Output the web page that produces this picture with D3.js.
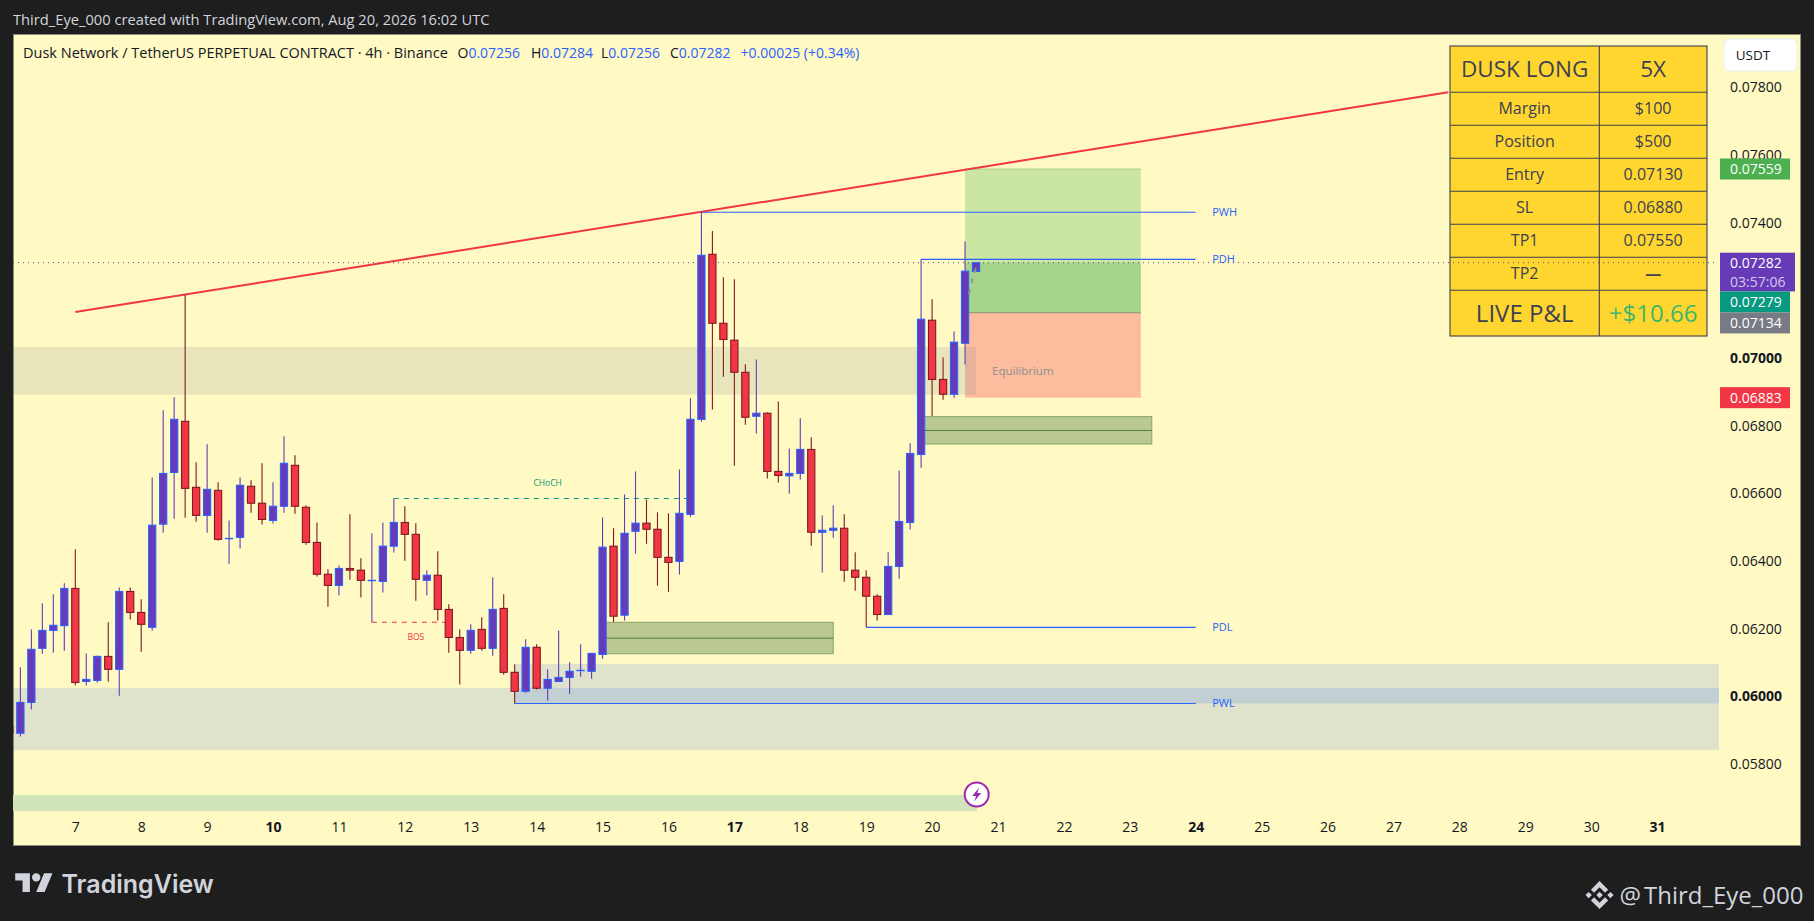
<!DOCTYPE html>
<html>
<head>
<meta charset="utf-8">
<title>DUSK 4h</title>
<script src="https://cdn.jsdelivr.net/npm/d3@7"></script>
<style>
	html, body { margin: 0; padding: 0; background: #1e1e1e; overflow: hidden; }
	svg { display: block; }
	text { font-family: "Open Sans", "Noto Sans", sans-serif; }
</style>
</head>
<body>
<div id="chart"></div>
<script>
// all prices are in units of 0.00001 USDT
var opens = [5910,5891,5982,6142,6195,6209,6319,6044,6047,6118,6080,6310,6248,6204,6509,6662,6813,6618,6535,6609,6466,6470,6621,6571,6520,6562,6683,6559,6455,6361,6328,6378,6373,6342,6340,6444,6514,6479,6343,6358,6257,6174,6136,6198,6142,6260,6071,6015,6145,6024,6044,6056,6076,6074,6124,6444,6240,6488,6512,6494,6411,6399,6538,6819,7307,7103,7053,6958,6828,6837,6665,6652,6659,6730,6485,6491,6497,6373,6352,6296,6242,6384,6514,6715,7112,6937,6893,7044,7256];
var highs = [5915,6086,6198,6275,6302,6334,6435,6127,6121,6219,6322,6322,6287,6647,6846,6884,7187,6692,6745,6633,6520,6647,6639,6689,6633,6769,6713,6565,6514,6376,6387,6538,6408,6482,6514,6585,6562,6512,6373,6429,6272,6198,6213,6234,6352,6302,6095,6169,6154,6080,6195,6101,6154,6127,6529,6497,6597,6665,6582,6544,6541,6671,6881,7431,7376,7239,7233,6982,6996,6840,6872,6733,6822,6766,6535,6565,6538,6426,6373,6302,6426,6668,6748,7292,7174,7002,7079,7345,7284];
var lows = [5886,5881,5961,6126,6129,6135,6032,6032,6040,6043,6002,6227,6132,6194,6484,6525,6528,6516,6484,6460,6392,6437,6543,6508,6511,6543,6540,6448,6354,6265,6298,6345,6292,6219,6307,6425,6401,6283,6298,6224,6129,6035,6126,6135,6120,6064,5979,6011,6020,5987,6043,6008,6058,6052,6111,6219,6224,6422,6451,6327,6309,6360,6531,6812,6848,6945,6682,6803,6777,6644,6632,6599,6641,6445,6366,6469,6339,6312,6204,6224,6242,6348,6493,6676,6829,6877,6883,6981,7256];
var closes = [5891,5982,6139,6195,6210,6319,6041,6050,6118,6080,6310,6248,6213,6506,6659,6819,6615,6535,6612,6464,6467,6624,6571,6523,6562,6689,6562,6455,6361,6328,6378,6373,6343,6343,6444,6514,6479,6346,6358,6257,6174,6136,6195,6142,6257,6071,6015,6145,6024,6050,6056,6074,6077,6127,6441,6237,6482,6512,6494,6411,6396,6541,6819,7304,7103,7055,6958,6825,6837,6665,6653,6659,6730,6485,6491,6497,6373,6352,6296,6242,6384,6517,6718,7115,6937,6893,7047,7257,7282];

// 0.07200 sits behind the last price tag in the picture, so it is not listed
var priceTicks = [5800,6000,6200,6400,6600,6800,7000,7400,7600,7800];
var boldPrices = [6000,7000];
var dayTicks = [7,8,9,10,11,12,13,14,15,16,17,18,19,20,21,22,23,24,25,26,27,28,29,30,31];
var boldDays = [10,17,24,31];

var lastBarTime = Date.UTC(2026,7,20,16);
var fourHours = 4*3600*1000;

function day(d, h) { return Date.UTC(2026,7,d,h||0); }

var greyZones = [
	{ label:'equilibrium', top:7033, bottom:6892, from:null, to:day(20,16), color:'rgba(120,123,134,0.16)' },
	{ label:'lower zone', top:6025, bottom:5841, from:null, to:day(32), color:'rgba(41,98,255,0.15)' },
	{ label:'lower zone top', top:6096, bottom:5979, from:day(13,16), to:day(32), color:'rgba(41,98,255,0.15)' }
];
var orderBoxes = [
	{ top:6219, mid:6172, bottom:6126, from:day(15,0), to:day(18,12) },
	{ top:6827, mid:6786, bottom:6746, from:day(19,20), to:day(23,8) }
];
var levelLines = [
	{ name:'PWH', price:7431, from:day(16,12) },
	{ name:'PDH', price:7292, from:day(19,20) },
	{ name:'PDL', price:6204, from:day(19,0) },
	{ name:'PWL', price:5979, from:day(13,16) }
];
var levelEnd = day(24);
var levelLabelTime = day(24,6);

var trendDates = [day(7), Date.UTC(2026,7,27,20)];
var trendPrices = [7136,7786];

var structure = [
	{ name:'CHoCH', price:6585, from:day(11,20), to:day(16,8), labelAt:day(14,4), labelPrice:6630, color:'#089981' },
	{ name:'BOS', price:6219, from:day(11,12), to:day(12,16), labelAt:day(12,4), labelPrice:6174, color:'#f23645' }
];

var tpPrice = 7559, entryPrice = 7134, stopPrice = 6883, lastPrice = 7282;
var riskFrom = day(20,12), riskTo = day(23,4);

var tableRows = [
	['DUSK LONG','5X'],
	['Margin','$100'],
	['Position','$500'],
	['Entry','0.07130'],
	['SL','0.06880'],
	['TP1','0.07550'],
	['TP2','\u2014'],
	['LIVE P&L','+$10.66']
];
var priceTags = [
	{ price:7559, text:'0.07559', color:'#4caf50', h:21, w:70 },
	{ price:7282, text:'0.07282', sub:'03:57:06', color:'#673ab7', h:38.7, w:75 },
	{ price:7279, text:'0.07279', color:'#089981', h:21, w:70 },
	{ price:7134, text:'0.07134', color:'#787b86', h:21, w:70 },
	{ price:6883, text:'0.06883', color:'#f23645', h:21, w:70 }
];

var width = 1814, height = 921;
var plot = { left:13, right:1801, top:34, bottom:845 };
var paneRight = 1719;

var x = d3.scaleUtc().domain([day(7), day(21)]).range([75.3, 998]);
var y = d3.scaleLinear().domain([5800, 7800]).range([764, 87.5]);

var barTimes = opens.map(function(d,i){ return lastBarTime - (opens.length-1-i)*fourHours; });

var svg = d3.select('#chart').append('svg').attr('width', width).attr('height', height);

svg.append('defs').append('clipPath').attr('id','pane')
	.append('rect').attr('x',plot.left).attr('y',plot.top)
	.attr('width',paneRight-plot.left).attr('height',plot.bottom-plot.top);

svg.append('rect').attr('x',plot.left+0.5).attr('y',plot.top+0.5)
	.attr('width',plot.right-plot.left-1).attr('height',plot.bottom-plot.top)
	.attr('fill','#fff9c4').attr('stroke','#8f8d7a');

svg.append('text').attr('x',13).attr('y',25).attr('fill','#d1d4dc').style('font-size','14.7px')
	.text('Third_Eye_000 created with TradingView.com, Aug 20, 2026 16:02 UTC');

var pane = svg.append('g').attr('clip-path','url(#pane)');

// long position tool
pane.append('rect').attr('x',x(riskFrom)).attr('width',x(riskTo)-x(riskFrom))
	.attr('y',y(tpPrice)).attr('height',y(entryPrice)-y(tpPrice)).attr('fill','#cbe5a3');
pane.append('rect').attr('x',x(riskFrom)).attr('width',x(riskTo)-x(riskFrom))
	.attr('y',y(lastPrice)).attr('height',y(entryPrice)-y(lastPrice)).attr('fill','#a5d48a');
pane.append('rect').attr('x',x(riskFrom)).attr('width',x(riskTo)-x(riskFrom))
	.attr('y',y(entryPrice)).attr('height',y(stopPrice)-y(entryPrice)).attr('fill','#fcbd9f');
pane.append('line').attr('x1',x(riskFrom)).attr('x2',x(riskTo)).attr('y1',y(entryPrice)).attr('y2',y(entryPrice))
	.attr('stroke','#8a8a70').attr('stroke-width',1);
pane.append('line').attr('x1',x(riskFrom)).attr('x2',x(riskTo)).attr('y1',y(tpPrice)).attr('y2',y(tpPrice))
	.attr('stroke','#a9cf85').attr('stroke-width',1);

pane.selectAll('.zone').data(greyZones).enter().append('rect').attr('class','zone')
	.attr('x',function(d){ return d.from ? x(d.from) : plot.left; })
	.attr('width',function(d){ return x(d.to) - (d.from ? x(d.from) : plot.left); })
	.attr('y',function(d){ return y(d.top); })
	.attr('height',function(d){ return y(d.bottom)-y(d.top); })
	.attr('fill',function(d){ return d.color; });

// bottom strip up to the last bar
pane.append('rect').attr('x',plot.left).attr('width',977-plot.left).attr('y',795).attr('height',16).attr('fill','#d1e5b9');

var box = pane.selectAll('.obox').data(orderBoxes).enter().append('g').attr('class','obox');
box.append('rect')
	.attr('x',function(d){ return x(d.from); })
	.attr('width',function(d){ return x(d.to)-x(d.from); })
	.attr('y',function(d){ return y(d.top); })
	.attr('height',function(d){ return y(d.bottom)-y(d.top); })
	.attr('fill','#b9c991').attr('stroke','#86a56d').attr('stroke-width',1);
box.append('line')
	.attr('x1',function(d){ return x(d.from); }).attr('x2',function(d){ return x(d.to); })
	.attr('y1',function(d){ return y(d.mid); }).attr('y2',function(d){ return y(d.mid); })
	.attr('stroke','#55803e').attr('stroke-width',1);

// trend line
pane.append('line')
	.attr('x1',x(trendDates[0])).attr('y1',y(trendPrices[0]))
	.attr('x2',x(trendDates[1])).attr('y2',y(trendPrices[1]))
	.attr('stroke','#f23645').attr('stroke-width',2);

pane.selectAll('.level').data(levelLines).enter().append('line').attr('class','level')
	.attr('x1',function(d){ return x(d.from); }).attr('x2',x(levelEnd))
	.attr('y1',function(d){ return y(d.price); }).attr('y2',function(d){ return y(d.price); })
	.attr('stroke','#2962ff').attr('stroke-width',1.1);

pane.selectAll('.struct').data(structure).enter().append('line').attr('class','struct')
	.attr('x1',function(d){ return x(d.from); }).attr('x2',function(d){ return x(d.to); })
	.attr('y1',function(d){ return y(d.price); }).attr('y2',function(d){ return y(d.price); })
	.attr('stroke',function(d){ return d.color; }).attr('stroke-width',1.1).attr('stroke-dasharray','5 5');

// candles
var candle = pane.selectAll('.candle').data(opens).enter().append('g').attr('class','candle');
function isUp(i) { return closes[i] >= opens[i]; }
candle.append('line')
	.attr('x1',function(d,i){ return x(barTimes[i]); }).attr('x2',function(d,i){ return x(barTimes[i]); })
	.attr('y1',function(d,i){ return y(highs[i]); }).attr('y2',function(d,i){ return y(lows[i]); })
	.attr('stroke',function(d,i){ return isUp(i) ? '#673ab7' : '#801922'; }).attr('stroke-width',1.1);
candle.append('rect')
	.attr('x',function(d,i){ return x(barTimes[i])-3.6; }).attr('width',7.2)
	.attr('y',function(d,i){ return y(Math.max(opens[i],closes[i])); })
	.attr('height',function(d,i){ return Math.abs(y(opens[i])-y(closes[i])); })
	.attr('fill',function(d,i){ return isUp(i) ? '#673ab7' : '#f23645'; })
	.attr('stroke',function(d,i){ return isUp(i) ? '#2962ff' : '#801922'; }).attr('stroke-width',1.1);

// the small forecast arrow beside the last bar
pane.append('path').attr('d','M969 294L973 277L977 265')
	.attr('fill','none').attr('stroke','#8d9a7c').attr('stroke-width',2).attr('stroke-dasharray','5 6');

// level labels
svg.selectAll('.lvl-label').data(levelLines).enter().append('text').attr('class','lvl-label')
	.attr('x',x(levelLabelTime)).attr('y',function(d){ return y(d.price); }).attr('dy','0.35em')
	.attr('fill','#2962ff').style('font-size','11px')
	.text(function(d){ return d.name; });

svg.selectAll('.struct-label').data(structure).enter().append('text').attr('class','struct-label')
	.attr('x',function(d){ return x(d.labelAt); }).attr('y',function(d){ return y(d.labelPrice); }).attr('dy','0.35em')
	.attr('text-anchor','middle').attr('fill',function(d){ return d.color; }).style('font-size','8.5px')
	.text(function(d){ return d.name; });

svg.append('text').attr('x',992).attr('y',371).attr('dy','0.35em').attr('fill','#8d9191').style('font-size','11.5px').text('Equilibrium');

// legend row
var legend = svg.append('text').attr('x',23).attr('y',58).style('font-size','14px').attr('fill','#131722');
legend.append('tspan').attr('x',23).style('font-size','14.5px').text('Dusk Network / TetherUS PERPETUAL CONTRACT \u00b7 4h \u00b7 Binance');
var ohlcLabels = ['O','H','L','C'];
var ohlcValues = ['0.07256','0.07284','0.07256','0.07282'];
var ohlcX = [457.5,531,601,670];
ohlcLabels.forEach(function(l,i){
	legend.append('tspan').attr('x',ohlcX[i]).text(l);
	legend.append('tspan').attr('fill','#2962ff').text(ohlcValues[i]);
});
legend.append('tspan').attr('x',740.5).attr('fill','#2962ff').text('+0.00025 (+0.34%)');

// table
var tableX = [1450,1599.3,1707];
var tableY = [46,92.3,125.3,158.3,191.3,224.3,257.3,290.3,336];
var cell = svg.append('g');
cell.append('rect').attr('x',tableX[0]).attr('y',tableY[0])
	.attr('width',tableX[2]-tableX[0]).attr('height',tableY[8]-tableY[0])
	.attr('fill','#ffd630').attr('stroke','#3d4150').attr('stroke-width',1.1);
cell.selectAll('.hrow').data(tableY.slice(1,-1)).enter().append('line').attr('class','hrow')
	.attr('x1',tableX[0]).attr('x2',tableX[2]).attr('y1',function(d){ return d; }).attr('y2',function(d){ return d; })
	.attr('stroke','#3d4150').attr('stroke-width',1.1);
cell.append('line').attr('x1',tableX[1]).attr('x2',tableX[1]).attr('y1',tableY[0]).attr('y2',tableY[8])
	.attr('stroke','#3d4150').attr('stroke-width',1.1);
tableRows.forEach(function(row,i){
	var size = i===0 ? '22.5px' : (i===tableRows.length-1 ? '24px' : '16px');
	var cy = (tableY[i]+tableY[i+1])/2;
	[0,1].forEach(function(col){
		cell.append('text')
			.attr('x',(tableX[col]+tableX[col+1])/2).attr('y',cy).attr('dy','0.35em')
			.attr('text-anchor','middle')
			.attr('fill',(row[col]==='+$10.66') ? '#3fb56a' : '#3d4150')
			.style('font-size',size)
			.style('font-weight',row[col]==='\u2014' ? 700 : 400)
			.text(row[col]);
	});
});

// dotted last price line goes over the table
svg.append('line')
	.attr('x1',plot.left).attr('x2',1717).attr('y1',y(lastPrice)).attr('y2',y(lastPrice))
	.attr('stroke','#5c4a7a').attr('stroke-width',1).attr('stroke-dasharray','1 4');

// price axis
var yAxis = d3.axisRight(y).tickValues(priceTicks).tickSize(0).tickPadding(0)
	.tickFormat(function(d){ return d3.format('.5f')(d/100000); });
var yg = svg.append('g').attr('transform','translate(1730,0)').call(yAxis);
yg.select('.domain').remove();
yg.selectAll('text').attr('fill','#131722').style('font-size','14px')
	.style('font-weight',function(d){ return boldPrices.indexOf(d)>=0 ? 700 : 400; })
	.style('font-family','"Open Sans", "Noto Sans", sans-serif');

// time axis
var xAxis = d3.axisBottom(x).tickValues(dayTicks.map(function(d){ return day(d); })).tickSize(0).tickPadding(0)
	.tickFormat(function(d){ return new Date(d).getUTCDate(); });
var xg = svg.append('g').attr('transform','translate(0,822)').call(xAxis);
xg.select('.domain').remove();
xg.selectAll('text').attr('fill','#131722').style('font-size','14px')
	.style('font-weight',function(d){ return boldDays.indexOf(new Date(d).getUTCDate())>=0 ? 700 : 400; })
	.style('font-family','"Open Sans", "Noto Sans", sans-serif');

// right side price tags, pushed down when they would collide like on the real axis
var prevBottom = 0;
priceTags.forEach(function(t){
	var top = t.sub ? y(t.price)-10 : y(t.price)-10.5;
	if (top < prevBottom) top = prevBottom;
	prevBottom = top + t.h;
	svg.append('rect').attr('x',1720).attr('y',top).attr('width',t.w).attr('height',t.h).attr('fill',t.color);
	svg.append('text').attr('x',1730).attr('y',top+10.5).attr('dy','0.35em').attr('fill','#ffffff').style('font-size','14px').text(t.text);
	if (t.sub) {
		svg.append('text').attr('x',1730).attr('y',top+29).attr('dy','0.35em').attr('fill','#d6c9ee').style('font-size','14px').text(t.sub);
	}
});

svg.append('rect').attr('x',1724).attr('y',39).attr('width',73).attr('height',32).attr('rx',6)
	.attr('fill','#ffffff').attr('stroke','#eceef2');
svg.append('text').attr('x',1735.7).attr('y',55).attr('dy','0.35em').attr('fill','#131722').style('font-size','13.5px').text('USDT');

// lightning marker
var bolt = svg.append('g').attr('transform','translate(976.7,794.5)');
bolt.append('circle').attr('r',12).attr('fill','#fff').attr('stroke','#9c27b0').attr('stroke-width',2);
bolt.append('path').attr('d','M2.5 -7L-4.5 1.5H-0.5L-2.5 7L4.5 -1.5H0.5Z').attr('fill','#9c27b0');

// footer
svg.append('path').attr('transform','translate(15.2,869) scale(1.05)')
	.attr('d','M14 22H7V11H0V4h14v18zM28 22h-8l7.5-18h8L28 22z').attr('fill','#d1d4dc');
svg.append('circle').attr('cx',15.2+20*1.05).attr('cy',869+8*1.05).attr('r',4.2).attr('fill','#d1d4dc');
svg.append('text').attr('x',61.5).attr('y',893).attr('fill','#d1d4dc')
	.style('font-family','Inter, sans-serif').style('font-size','25px').style('font-weight',600)
	.text('TradingView');

svg.append('path').attr('transform','translate(1585.5,881) scale(0.222)')
	.attr('d','M38.73 53.2l24.59-24.58 24.6 24.6 14.3-14.31L63.32 0 24.42 38.9zM0 63.31l14.3-14.31 14.31 14.31-14.31 14.3zM38.73 73.41l24.59 24.59 24.6-24.6 14.31 14.29h-.01L63.32 126.61 24.42 87.7l-.02-.02zM98 63.31l14.3-14.31 14.31 14.3-14.31 14.31zM77.83 63.3h.01L63.32 48.78 52.59 59.51h-.01l-1.23 1.23-2.54 2.54-.02.02.02.03 14.51 14.5 14.52-14.52.01-.01z')
	.attr('fill','#d1d4dc');
svg.append('text').attr('x',1619.5).attr('y',904).attr('fill','#d1d4dc').style('font-size','24px').text('@');
svg.append('text').attr('x',1644).attr('y',904).attr('fill','#d1d4dc').style('font-size','24px').text('Third_Eye_000');
</script>
</body>
</html>
